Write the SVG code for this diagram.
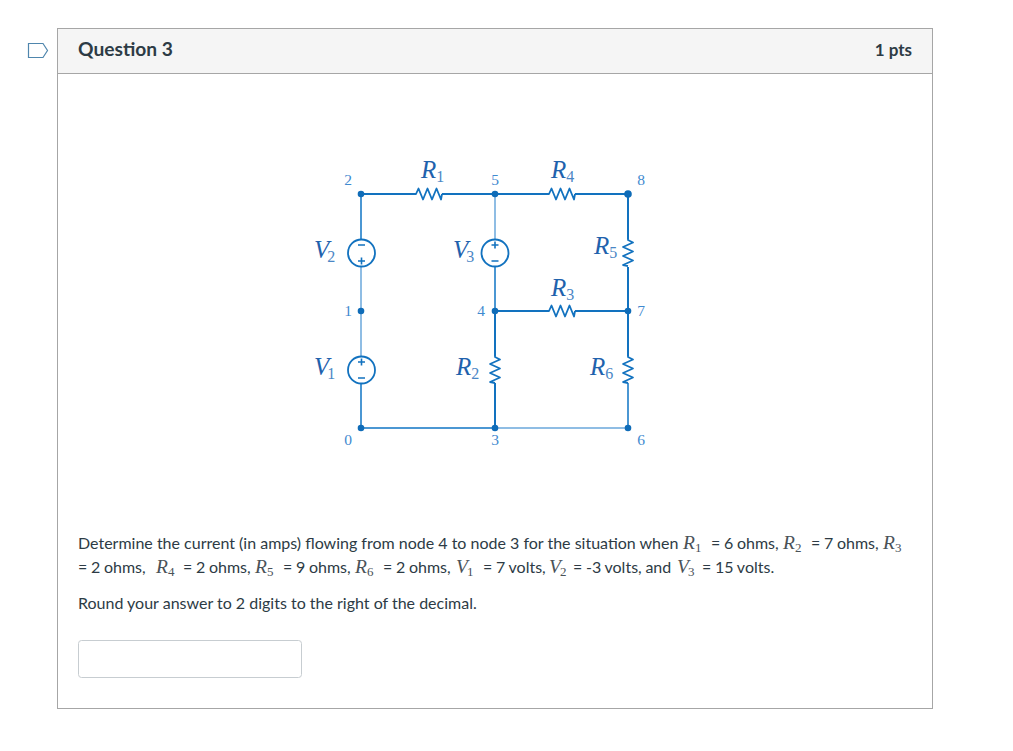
<svg xmlns="http://www.w3.org/2000/svg" width="1013" height="751" viewBox="0 0 1013 751">
<style>
text{font-family:"Lato","Liberation Sans",sans-serif;}
.body{font-size:16px;fill:#2d3b45;}
.eq{font-size:16px;fill:#2d3b45;word-spacing:-0.400px;}
.head{font-weight:700;fill:#2d3b45;}
.m{font-family:"Liberation Serif","DejaVu Serif",serif;font-style:italic;font-size:19.500px;fill:#4a5258;}
.s{font-family:"Liberation Serif","DejaVu Serif",serif;font-style:normal;font-size:13px;fill:#4a5258;}
.cm{font-family:"Liberation Serif","DejaVu Serif",serif;font-style:italic;font-size:25px;fill:#1f62ad;}
.cs{font-family:"Liberation Serif","DejaVu Serif",serif;font-style:normal;font-size:16px;fill:#4a86c5;}
.n{font-family:"Liberation Serif","DejaVu Serif",serif;font-size:15.500px;fill:#3f8ad0;text-anchor:middle;}
.w{stroke:#1272bf;stroke-width:2;fill:none;}
.w2{stroke:#4b97d3;stroke-width:2;fill:none;}
.w3{stroke:#8fbde4;stroke-width:2;fill:none;}
.src{stroke:#1272bf;stroke-width:1.800;fill:#fff;}
.pm{stroke:#1272bf;stroke-width:1.600;fill:none;}
.dot{fill:#0f6cb8;}
</style>
<defs>
<path id="rh" d="M0 0h1l2.500-5.500 4.500 11 4.500-11 4.500 11 4.500-11 4.500 11 1-5.500" fill="none" stroke="#1272bf" stroke-width="1.800" stroke-linejoin="round"/>
<path id="rv" d="M0 0v1l5 2.500-10 4.500 10 4.500-10 4.500 10 4.500-10 4.500 5 1" fill="none" stroke="#1272bf" stroke-width="1.800" stroke-linejoin="round"/>
</defs>
<rect width="1013" height="751" fill="#fff"/>
<g id="frame">
<rect x="57.500" y="28.500" width="875" height="680" fill="#fff" stroke="#a6a6a6"/>
<rect x="58" y="29" width="874" height="44" fill="#f5f5f5"/>
<path d="M57.500 73.500H932.500" stroke="#a6a6a6" fill="none"/>
</g>
<g id="flag"><path d="M28.500 43.500H43L47.500 50.500 43 57.500H28.500Z" fill="#fff" stroke="#4f86ad" stroke-width="1.200"/></g>
<g id="title"><text class="head" x="78" y="55.500" font-size="19.200">Question 3</text><text class="head" x="912" y="56" font-size="17" text-anchor="end">1 pts</text></g>
<g id="connectors">
<path class="w" d="M361 194H415M442 194H495M495 194H548M575 194H628V239M628 267V311M495 311H548M575 311H628M628 311V356M495 311V356M495 383V428"/>
<path class="w2" d="M361 194V240M495 266V311M361 383V428H495M628 383V428"/>
<path class="w3" d="M495 194V240M361 266V357M495 428H628"/>
</g>
<g id="R1"><use href="#rh" x="415" y="194"/><text class="cm" x="421" y="178">R<tspan class="cs" dy="4">1</tspan></text></g>
<g id="R4"><use href="#rh" x="548" y="194"/><text class="cm" x="551" y="178">R<tspan class="cs" dy="4">4</tspan></text></g>
<g id="R3"><use href="#rh" x="548" y="311"/><text class="cm" x="551" y="296">R<tspan class="cs" dy="4">3</tspan></text></g>
<g id="R5"><use href="#rv" x="628" y="239"/><text class="cm" x="594" y="254">R<tspan class="cs" dy="4">5</tspan></text></g>
<g id="R2"><use href="#rv" x="495" y="356"/><text class="cm" x="456" y="375">R<tspan class="cs" dy="4">2</tspan></text></g>
<g id="R6"><use href="#rv" x="628" y="356"/><text class="cm" x="590" y="375">R<tspan class="cs" dy="4">6</tspan></text></g>
<g id="V2"><circle class="src" cx="361.500" cy="253" r="13.500"/><path class="pm" d="M358 245h7M358 261h7M361.500 257.500v7"/><text class="cm" x="314" y="258">V<tspan class="cs" dy="4" dx="-2">2</tspan></text></g>
<g id="V3"><circle class="src" cx="495" cy="253" r="13.500"/><path class="pm" d="M491.500 245h7M495 241.500v7M491.500 261h7"/><text class="cm" x="453" y="258">V<tspan class="cs" dy="4" dx="-2">3</tspan></text></g>
<g id="V1"><circle class="src" cx="361.500" cy="370" r="13.500"/><path class="pm" d="M358 362h7M361.500 358.500v7M358 378h7"/><text class="cm" x="314" y="375">V<tspan class="cs" dy="4" dx="-2">1</tspan></text></g>
<g id="node2"><circle class="dot" cx="361" cy="194" r="3.300"/><text class="n" x="348" y="185">2</text></g>
<g id="node5"><circle class="dot" cx="495" cy="194" r="3.300"/><text class="n" x="495" y="185">5</text></g>
<g id="node8"><circle class="dot" cx="628" cy="194" r="3.800"/><text class="n" x="641" y="185">8</text></g>
<g id="node1"><circle class="dot" cx="361" cy="311" r="3.300"/><text class="n" x="348" y="316">1</text></g>
<g id="node4"><circle class="dot" cx="495" cy="311" r="3.300"/><text class="n" x="481" y="316">4</text></g>
<g id="node7"><circle class="dot" cx="628" cy="311" r="3.300"/><text class="n" x="641" y="316">7</text></g>
<g id="node0"><circle class="dot" cx="361" cy="428" r="3.300"/><text class="n" x="348" y="445">0</text></g>
<g id="node3"><circle class="dot" cx="495" cy="428" r="3.300"/><text class="n" x="495" y="445">3</text></g>
<g id="node6"><circle class="dot" cx="628" cy="428" r="3.300"/><text class="n" x="641" y="445">6</text></g>
<g id="text">
<text class="body" x="78" y="549">Determine the current (in amps) flowing from node 4 to node 3 for the situation when</text>
<text class="m" x="683" y="549">R<tspan class="s" dy="3">1</tspan></text>
<text class="eq" x="711" y="549">= 6 ohms,</text>
<text class="m" x="783" y="549">R<tspan class="s" dy="3">2</tspan></text>
<text class="eq" x="811" y="549">= 7 ohms,</text>
<text class="m" x="883" y="549">R<tspan class="s" dy="3">3</tspan></text>
<text class="eq" x="78" y="573">= 2 ohms,</text>
<text class="m" x="156" y="573">R<tspan class="s" dy="3">4</tspan></text>
<text class="eq" x="183" y="573">= 2 ohms,</text>
<text class="m" x="255" y="573">R<tspan class="s" dy="3">5</tspan></text>
<text class="eq" x="283" y="573">= 9 ohms,</text>
<text class="m" x="355" y="573">R<tspan class="s" dy="3">6</tspan></text>
<text class="eq" x="383" y="573">= 2 ohms,</text>
<text class="m" x="456" y="573">V<tspan class="s" dy="3" dx="-1">1</tspan></text>
<text class="eq" x="483" y="573">= 7 volts,</text>
<text class="m" x="549" y="573">V<tspan class="s" dy="3" dx="-1">2</tspan></text>
<text class="eq" x="573" y="573">= -3 volts, and</text>
<text class="m" x="677" y="573">V<tspan class="s" dy="3" dx="-1">3</tspan></text>
<text class="eq" x="702" y="573">= 15 volts.</text>
<text class="body" x="78" y="609">Round your answer to 2 digits to the right of the decimal.</text>
</g>
<g id="answer"><rect x="78.500" y="640.500" width="223" height="37" rx="3" fill="#fff" stroke="#c7cdd1"/></g>
</svg>
